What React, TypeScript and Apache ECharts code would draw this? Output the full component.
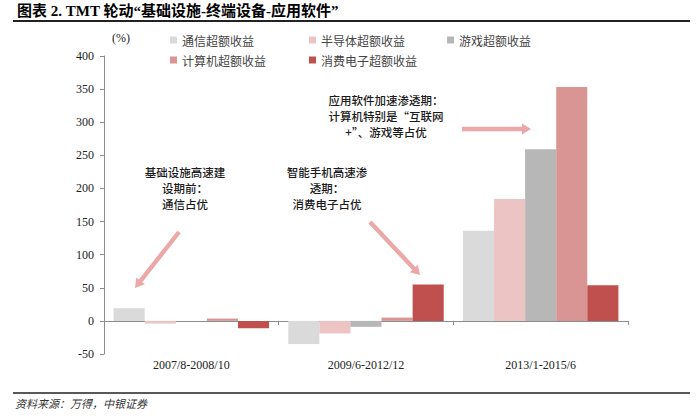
import React, { useEffect, useRef } from "react";
import * as echarts from "echarts";

const categories = ["2007/8-2008/10", "2009/6-2012/12", "2013/1-2015/6"];
const seriesNames = ["通信超额收益", "半导体超额收益", "游戏超额收益", "计算机超额收益", "消费电子超额收益"];
const telecom = [19, -35, 136];
const semiconductor = [-4, -19, 184];
const gaming = [0, -9, 259];
const computer = [3.5, 5, 353];
const consumerElec = [-11, 55, 54];
const seriesValues = [telecom, semiconductor, gaming, computer, consumerElec];
const seriesColors = ["#dadada", "#edc4c4", "#b7b7b7", "#d99594", "#c0504d"];
const yTicks = { min: -50, max: 400, interval: 50 };

const titleText = "图表 2. TMT 轮动“基础设施-终端设备-应用软件”";
const sourceText = "资料来源：万得，中银证券";
const note1 = ["基础设施高速建", "设期前：", "通信占优"];
const note2 = ["智能手机高速渗", "透期：", "消费电子占优"];
const note3 = ["应用软件加速渗透期：", "计算机特别是“互联网", "+”、游戏等占优"];

function arrow(x1: number, y1: number, x2: number, y2: number, color: string) {
  const dx = x2 - x1, dy = y2 - y1;
  const len = Math.sqrt(dx * dx + dy * dy);
  const ux = dx / len, uy = dy / len;
  const nx = -uy, ny = ux;
  const w = 2.2, hw = 5.5, hl = 9;
  const bx = x2 - ux * hl, by = y2 - uy * hl;
  const pts = [
    [x1 + nx * w, y1 + ny * w],
    [bx + nx * w, by + ny * w],
    [bx + nx * hw, by + ny * hw],
    [x2, y2],
    [bx - nx * hw, by - ny * hw],
    [bx - nx * w, by - ny * w],
    [x1 - nx * w, y1 - ny * w],
  ];
  return { type: "polygon", shape: { points: pts }, style: { fill: color }, silent: true };
}

function noteText(lines: string[], x: number, y: number) {
  return lines.map((line, i) => ({
    type: "text",
    x,
    y: y + i * 16,
    style: {
      text: line,
      align: "center",
      verticalAlign: "middle",
      font: "500 11.5px 'Noto Sans CJK SC'",
      fill: "#1a1a1a",
    },
  }));
}

export default function App() {
  const ref = useRef<HTMLDivElement>(null);
  useEffect(() => {
    if (!ref.current) return;
    const chart = echarts.init(ref.current, null, { renderer: "svg" });
    const legendPos = [
      [170, 34],
      [309, 34],
      [447, 34],
      [170, 54],
      [309, 54],
    ];
    const legends = seriesNames.map((n, i) => ({
      data: [n],
      left: legendPos[i][0],
      top: legendPos[i][1],
      padding: 0,
      itemWidth: 7,
      itemHeight: 7,
      icon: "rect",
      textStyle: { fontSize: 12, color: "#444", fontFamily: "'Noto Sans CJK SC'" },
      selectedMode: false,
    }));
    const arrowColor = "#eca8a8";
    chart.setOption({
      animation: false,
      backgroundColor: "#ffffff",
      legend: legends,
      grid: { left: 104, right: 72, top: 56, height: 298, containLabel: false },
      xAxis: [
        {
          type: "category",
          data: categories,
          position: "bottom",
          axisLine: { show: false, onZero: false },
          axisTick: { show: false },
          axisLabel: {
            margin: 5,
            fontSize: 12,
            color: "#222",
            fontFamily: "'Liberation Serif', serif",
          },
        },
        {
          type: "category",
          data: categories,
          position: "bottom",
          axisLine: { show: true, onZero: true, lineStyle: { color: "#8c8c8c", width: 1 } },
          axisTick: { show: true, length: 4, lineStyle: { color: "#8c8c8c" } },
          axisLabel: { show: false },
        },
      ],
      yAxis: {
        type: "value",
        min: yTicks.min,
        max: yTicks.max,
        interval: yTicks.interval,
        axisLine: { show: true, lineStyle: { color: "#8c8c8c", width: 1 } },
        axisTick: { show: true, length: 4, lineStyle: { color: "#8c8c8c" } },
        splitLine: { show: false },
        axisLabel: {
          margin: 10,
          fontSize: 12,
          color: "#222",
          fontFamily: "'Liberation Serif', serif",
        },
      },
      series: seriesNames.map((n, i) => ({
        name: n,
        type: "bar",
        xAxisIndex: 0,
        data: seriesValues[i],
        barGap: "0%",
        barCategoryGap: "11%",
        itemStyle: { color: seriesColors[i] },
      })),
      graphic: [
        {
          type: "text",
          x: 17,
          y: 3,
          style: {
            text: titleText,
            font: "bold 15px 'Liberation Serif', 'Noto Sans CJK SC'",
            fill: "#000",
          },
        },
        { type: "line", shape: { x1: 13, y1: 21, x2: 690, y2: 21 }, style: { stroke: "#222", lineWidth: 2 } },
        {
          type: "text",
          x: 121,
          y: 38,
          style: {
            text: "(%)",
            align: "center",
            verticalAlign: "middle",
            font: "12px 'Liberation Serif', serif",
            fill: "#222",
          },
        },
        ...noteText(note1, 185, 172),
        ...noteText(note2, 327, 172),
        ...noteText(note3, 386, 100),
        arrow(179, 232, 135, 288, arrowColor),
        arrow(370, 222, 420, 275, arrowColor),
        arrow(462, 129, 531, 129, arrowColor),
        { type: "line", shape: { x1: 13, y1: 393, x2: 690, y2: 393 }, style: { stroke: "#222", lineWidth: 1.5 } },
        {
          type: "text",
          x: 15,
          y: 403,
          style: {
            text: sourceText,
            verticalAlign: "middle",
            font: "italic 11px 'Noto Sans CJK SC'",
            fill: "#333",
          },
        },
      ],
    });
    return () => chart.dispose();
  }, []);
  return (
    <div
      ref={ref}
      style={{ position: "fixed", left: 0, top: 0, width: 700, height: 420, background: "#fff" }}
    />
  );
}
